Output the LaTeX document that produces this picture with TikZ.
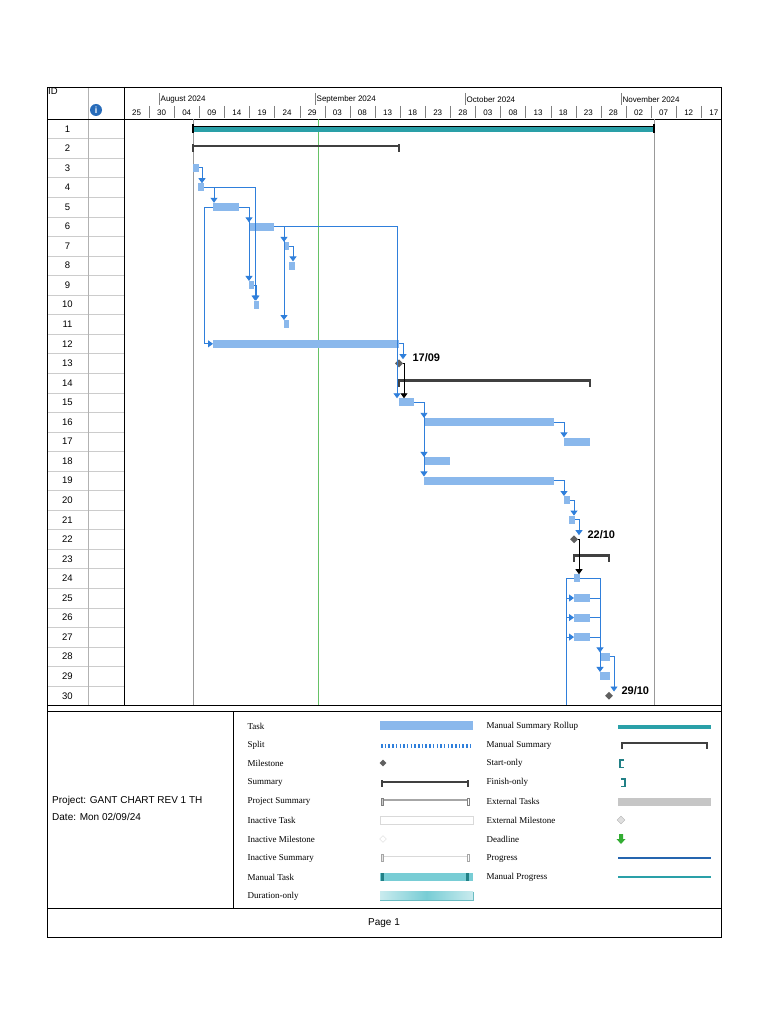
\documentclass[tikz,border=0pt]{standalone}
\usepackage{fontspec}
\setmainfont{Liberation Serif}
\newfontfamily\segoe{Liberation Sans}
\usetikzlibrary{arrows.meta,shapes.geometric,calc}
\definecolor{taskblue}{HTML}{8AB8EC}
\definecolor{linkblue}{HTML}{2F7FDB}
\definecolor{teal1}{HTML}{2AA0A8}
\definecolor{teallt}{HTML}{78CDD5}
\definecolor{sumgray}{HTML}{404040}
\definecolor{msgray}{HTML}{606060}
\tikzset{
 task/.style={fill=taskblue,draw=none,inner sep=0,minimum height=8,anchor=west},
 lk/.style={draw=linkblue,line width=0.9},
 lka/.style={lk,-{Triangle[width=7,length=5]}},
 bka/.style={draw=black,line width=0.9,-{Triangle[width=7,length=5]}},
 ms/.style={diamond,fill=msgray,inner sep=0,minimum size=8},
 mslab/.style={anchor=west,font=\segoe\bfseries\fontsize{11}{12}\selectfont},
 idtxt/.style={font=\segoe\fontsize{9.5}{10}\selectfont},
 hdr/.style={font=\segoe\fontsize{8}{9}\selectfont},
 leg/.style={anchor=west,font=\fontsize{9}{10}\selectfont},
 endcap/.style={fill=sumgray,inner sep=0,minimum width=2.2,minimum height=8},
}
\newcommand\ry[1]{119+19.55*(#1-0.5)}
\newcommand\tbar[4]{\node[task,minimum width={#4-#3}] (#1) at (#3,{\ry{#2}}) {};}
\begin{document}
\begin{tikzpicture}[x=1pt,y=-1pt]
\useasboundingbox (0,0) rectangle (768,1024);
\fill[white] (0,0) rectangle (768,1024);
% grid of ID column
\foreach \i in {1,...,30}{
 \node[idtxt] (id\i) at (67.5,{\ry{\i}}) {\i};
 \draw[gray!40] (47,{119+19.55*\i}) -- (124,{119+19.55*\i});
}
\draw[gray!60] (88,87) -- (88,705);
\draw (124,87) -- (124,705);
\draw (47,119) -- (721,119);
\node[anchor=north west,inner sep=1,idtxt] (idh) at (47,87) {ID};
\node[circle,fill=linkblue!85!black,inner sep=0,minimum size=12,text=white,font=\segoe\bfseries\fontsize{9}{9}\selectfont] (info) at (96,110) {i};
% timeline header
\foreach \m/\x in {August 2024/159,September 2024/315,October 2024/465,November 2024/621}{
 \draw[gray] (\x,93) -- (\x,105);
 \node[hdr,anchor=west,inner sep=1.5] at (\x,99.5) {\m};
}
\foreach \d [count=\k from 0] in {25,30,04,09,14,19,24,29,03,08,13,18,23,28,03,08,13,18,23,28,02,07,12,17}{
 \node[hdr] at ({124+25.1*\k+12.5},112.5) {\d};
 \ifnum\k>0 \draw[gray] ({124+25.1*\k},106) -- ({124+25.1*\k},118); \fi
}
% vertical reference lines
\draw[gray!80] (193,119) -- (193,705);
\draw[gray!80] (654,119) -- (654,705);
\draw[green!60!black!60] (318,119) -- (318,705);
% row 1 rollup
\fill[teal1] (193,127) rectangle (654,132);
\draw[black,line width=0.6] (193,126.3) -- (654,126.3);
\node[endcap,minimum height=9,fill=black] (r1a) at (193,128.8) {};
\node[endcap,minimum height=9,fill=black] (r1b) at (654,128.8) {};
% summaries
\draw[sumgray,line width=2.5] (193,146) -- (399,146);
\node[endcap] (s2a) at (193,148.5) {}; \node[endcap] (s2b) at (399,148.5) {};
\draw[sumgray,line width=2.5] (399,380.5) -- (590,380.5);
\node[endcap] (s14a) at (399,383) {}; \node[endcap] (s14b) at (590,383) {};
\draw[sumgray,line width=2.5] (574,555.5) -- (609,555.5);
\node[endcap] (s23a) at (574,558) {}; \node[endcap] (s23b) at (609,558) {};
% tasks
\tbar{b3}{3}{193}{199}
\tbar{b4}{4}{198}{204}
\tbar{b5}{5}{213}{239}
\tbar{b6}{6}{249}{274}
\tbar{b7}{7}{284}{289}
\tbar{b8}{8}{289}{295}
\tbar{b9}{9}{249}{254}
\tbar{b10}{10}{254}{259}
\tbar{b11}{11}{284}{289}
\tbar{b12}{12}{213}{399}
\tbar{b15}{15}{399}{414}
\tbar{b16}{16}{424}{554}
\tbar{b17}{17}{564}{590}
\tbar{b18}{18}{424}{450}
\tbar{b19}{19}{424}{554}
\tbar{b20}{20}{564}{570}
\tbar{b21}{21}{569}{575}
\tbar{b24}{24}{574}{580}
\tbar{b25}{25}{574}{590}
\tbar{b26}{26}{574}{590}
\tbar{b27}{27}{574}{590}
\tbar{b28}{28}{600}{610}
\tbar{b29}{29}{600}{610}
% milestones
\node[ms] (m13) at (399,{\ry{13}}) {};
\node[ms] (m22) at (574,{\ry{22}}) {};
\node[ms] (m30) at (609,{\ry{30}}) {};
\node[mslab] (l13) at (409,358) {17/09};
\node[mslab] (l22) at (584,535) {22/10};
\node[mslab] (l30) at (618,691) {29/10};
% links
\draw[lka] (b3.east) -| ([xshift=4]b4.north west);
\draw[lka] (b4.east) -| ([xshift=1]b5.north west);
\draw[lka] (b4.east) -| ([xshift=1]b10.north west);
\draw[lka] (b5.east) -| ([xshift=0]b6.north west);
\draw[lka] (b5.east) -| ([xshift=0]b9.north west);
\draw[lka] (b5.west) -- ++(-9,0) |- (b12.west);
\draw[lka] (b6.east) -| ([xshift=0]b7.north west);
\draw[lka] (b6.east) -| ([xshift=0]b11.north west);
\draw[lka] (b6.east) -| ([xshift=-2]b15.north west);
\draw[lka] (b7.east) -| ([xshift=4]b8.north west);
\draw[lka] (b9.east) -| ([xshift=2]b10.north west);
\draw[lka] (b12.east) -| ([xshift=4]m13.north);
\draw[bka] (m13.east) -| ([xshift=5]b15.north west);
\draw[lka] (b15.east) -| ([xshift=0]b16.north west);
\draw[lka] (b15.east) -| ([xshift=0]b18.north west);
\draw[lka] (b15.east) -| ([xshift=0]b19.north west);
\draw[lka] (b16.east) -| ([xshift=0]b17.north west);
\draw[lka] (b19.east) -| ([xshift=0]b20.north west);
\draw[lka] (b20.east) -| ([xshift=5]b21.north west);
\draw[lka] (b21.east) -| ([xshift=5]m22.north);
\draw[bka] (m22.east) -| ([xshift=5]b24.north west);
\coordinate (cl) at (566,{\ry{24}});
\coordinate (cr) at (600,{\ry{24}});
\coordinate (cbot) at (566,705);
\draw[lk] (b24.west) -- (cl) -- (cbot);
\draw[lk] (b24.east) -- (cr);
\draw[lka] (cl) |- (b25.west);
\draw[lka] (cl) |- (b26.west);
\draw[lka] (cl) |- (b27.west);
\draw[lk] (b25.east) -- (600,{\ry{25}});
\draw[lk] (b26.east) -- (600,{\ry{26}});
\draw[lk] (b27.east) -- (600,{\ry{27}});
\draw[lka] (cr) -- (b28.north west);
\draw[lka] (cr) -- (b29.north west);
\draw[lka] (b28.east) -| ([xshift=5]m30.north);
% frame and legend
\draw (47,87) rectangle (721,937);
\draw (47,705) -- (721,705);
\draw (47,711) -- (721,711);
\draw (47,908) -- (721,908);
\draw (233,711) -- (233,908);
\begin{scope}
\clip (47,711) rectangle (233,908);
\node[anchor=west,font=\segoe\fontsize{10}{11}\selectfont,inner sep=0] (proj) at (52,801) {Project: GANT CHART REV 1 TH};
\node[anchor=west,font=\segoe\fontsize{10}{11}\selectfont,inner sep=0] (date) at (52,817) {Date: Mon 02/09/24};
\end{scope}
\node[font=\segoe\fontsize{10}{11}\selectfont] (page) at (384,923) {Page 1};
\foreach \t [count=\k from 0] in {Task,Split,Milestone,Summary,Project Summary,Inactive Task,Inactive Milestone,Inactive Summary,Manual Task,Duration-only}
 \node[leg] at (244,{726+18.9*\k}) {\t};
\foreach \t [count=\k from 0] in {Manual Summary Rollup,Manual Summary,Start-only,Finish-only,External Tasks,External Milestone,Deadline,Progress,Manual Progress}
 \node[leg] at (483,{726+18.9*\k}) {\t};
% left legend symbols
\fill[taskblue] (380,721) rectangle (473,729.5);
\draw[linkblue,line width=3.5,dash pattern=on 1.5 off 2.2] (381,746) -- (472,746);
\node[ms,minimum size=7] (lgm) at (383,763) {};
\draw[sumgray,line width=2] (382,781.5) -- (468,781.5);
\node[endcap,minimum height=7] at (382,783) {}; \node[endcap,minimum height=7] at (468,783) {};
\draw[gray!70,line width=2] (382,800) -- (468,800);
\node[draw=gray,fill=gray!40,inner sep=0,minimum width=2,minimum height=7] at (382,801.5) {};
\node[draw=gray,fill=white,inner sep=0,minimum width=2,minimum height=7] at (468,801.5) {};
\draw[gray!30] (380,816.5) rectangle (473,824);
\node[diamond,draw=gray!30,inner sep=0,minimum size=7] (lgim) at (383,839) {};
\draw[gray!30,line width=1] (382,856.5) -- (468,856.5);
\node[draw=gray!70,fill=gray!20,inner sep=0,minimum width=2,minimum height=7] at (382,858) {};
\node[draw=gray!70,fill=white,inner sep=0,minimum width=2,minimum height=7] at (468,858) {};
\fill[teallt] (380,873) rectangle (473,881);
\fill[teal1!80!black] (381,873) rectangle (383.5,881); \fill[teal1!80!black] (466,873) rectangle (468.5,881);
\shade[left color=teallt!40,right color=teallt!40,middle color=teallt] (380,891.5) rectangle (473,899.5);
\draw[teal1!70] (380,899.8) -- (473,899.8) -- (473,891.5);
% right legend symbols
\fill[teal1] (618,725) rectangle (711,729);
\draw[sumgray,line width=2] (622,743) -- (707,743);
\node[endcap,minimum height=7] at (622,745) {}; \node[endcap,minimum height=7] at (707,745) {};
\draw[teal1!80!black,line width=1.6] (624,760) -- (620,760) -- (620,767.5) -- (624,767.5);
\draw[teal1!80!black,line width=1.6] (621,779) -- (625,779) -- (625,786.5) -- (621,786.5);
\fill[gray!45] (618,797.5) rectangle (711,806);
\node[diamond,draw=gray!60,fill=gray!25,inner sep=0,minimum size=8] (lgem) at (621,820) {};
\fill[green!60!black!80] (619,834) rectangle (623,839) (616.5,839) -- (625.5,839) -- (621,844) -- cycle;
\draw[linkblue!80!black,line width=2.8] (618,858) -- (711,858);
\draw[teal1,line width=2.5] (618,877) -- (711,877);
\end{tikzpicture}
\end{document}
